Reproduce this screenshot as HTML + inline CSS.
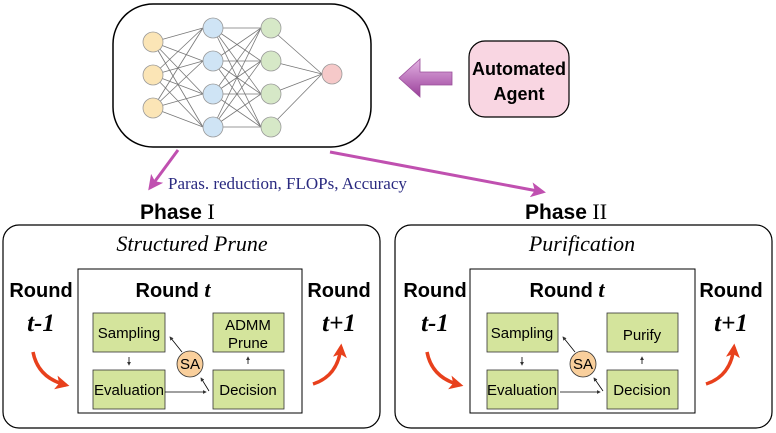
<!DOCTYPE html>
<html><head><style>body{margin:0;background:#fff}svg{display:block}
text{font-family:"Liberation Sans",Arial,sans-serif}
.s{font-family:"Liberation Serif","Times New Roman",serif}
</style></head><body>
<svg width="776" height="433" viewBox="0 0 776 433" xmlns="http://www.w3.org/2000/svg">
<defs>
<linearGradient id="pg" x1="0" y1="0" x2="0" y2="1"><stop offset="0" stop-color="#e3b3e3"/><stop offset="1" stop-color="#9a3f9a"/></linearGradient>
<marker id="mp" markerWidth="5" markerHeight="5" refX="4" refY="2.5" orient="auto"><path d="M0,0L5,2.5L0,5L1.2,2.5z" fill="#c050b0"/></marker>
<marker id="mr" markerWidth="4" markerHeight="4" refX="3" refY="2" orient="auto"><path d="M0,0L4,2L0,4L1,2z" fill="#e8401c"/></marker>
<marker id="mn" markerWidth="5" markerHeight="5" refX="4" refY="2.5" orient="auto"><path d="M0,0L5,2.5L0,5z" fill="#333"/></marker>
</defs>
<rect x="113" y="4" width="258" height="143" rx="40" fill="#fff" stroke="#000" stroke-width="1.5"/>
<g stroke="#777" stroke-width="0.8">
<line x1="153" y1="42" x2="203" y2="28"/><line x1="153" y1="42" x2="203" y2="61"/><line x1="153" y1="42" x2="203" y2="94"/><line x1="153" y1="42" x2="203" y2="127"/>
<line x1="153" y1="75" x2="203" y2="28"/><line x1="153" y1="75" x2="203" y2="61"/><line x1="153" y1="75" x2="203" y2="94"/><line x1="153" y1="75" x2="203" y2="127"/>
<line x1="153" y1="108" x2="203" y2="28"/><line x1="153" y1="108" x2="203" y2="61"/><line x1="153" y1="108" x2="203" y2="94"/><line x1="153" y1="108" x2="203" y2="127"/>
<line x1="213" y1="28" x2="261" y2="28"/><line x1="213" y1="28" x2="261" y2="61"/><line x1="213" y1="28" x2="261" y2="94"/><line x1="213" y1="28" x2="261" y2="127"/>
<line x1="213" y1="61" x2="261" y2="28"/><line x1="213" y1="61" x2="261" y2="61"/><line x1="213" y1="61" x2="261" y2="94"/><line x1="213" y1="61" x2="261" y2="127"/>
<line x1="213" y1="94" x2="261" y2="28"/><line x1="213" y1="94" x2="261" y2="61"/><line x1="213" y1="94" x2="261" y2="94"/><line x1="213" y1="94" x2="261" y2="127"/>
<line x1="213" y1="127" x2="261" y2="28"/><line x1="213" y1="127" x2="261" y2="61"/><line x1="213" y1="127" x2="261" y2="94"/><line x1="213" y1="127" x2="261" y2="127"/>
<line x1="270" y1="28" x2="322" y2="74"/><line x1="270" y1="61" x2="322" y2="74"/><line x1="270" y1="94" x2="322" y2="74"/><line x1="270" y1="127" x2="322" y2="74"/>
</g>
<g stroke="#999" stroke-width="0.8">
<circle cx="153" cy="42" r="10" fill="#fbe5b6"/><circle cx="153" cy="75" r="10" fill="#fbe5b6"/><circle cx="153" cy="108" r="10" fill="#fbe5b6"/>
<circle cx="213" cy="28" r="10" fill="#cfe4f5"/><circle cx="213" cy="61" r="10" fill="#cfe4f5"/><circle cx="213" cy="94" r="10" fill="#cfe4f5"/><circle cx="213" cy="127" r="10" fill="#cfe4f5"/>
<circle cx="271" cy="28" r="10" fill="#d6e8c7"/><circle cx="271" cy="61" r="10" fill="#d6e8c7"/><circle cx="271" cy="94" r="10" fill="#d6e8c7"/><circle cx="271" cy="127" r="10" fill="#d6e8c7"/>
<circle cx="332" cy="74" r="10" fill="#f6c9c9"/>
</g>
<rect x="469" y="41" width="100" height="76" rx="16" fill="#f9d6e2" stroke="#000" stroke-width="1.2"/>
<text x="519" y="75" font-size="18" font-weight="bold" text-anchor="middle">Automated</text>
<text x="519" y="100" font-size="18" font-weight="bold" text-anchor="middle">Agent</text>
<path d="M399,78L420,59L420,72L452,72L452,85L420,85L420,97z" fill="url(#pg)" stroke="#9a4f9a" stroke-width="0.8"/>
<line x1="178" y1="150" x2="150" y2="188" stroke="#c050b0" stroke-width="3" marker-end="url(#mp)"/>
<line x1="330" y1="152" x2="543" y2="192" stroke="#c050b0" stroke-width="3" marker-end="url(#mp)"/>
<text class="s" x="168" y="189" font-size="17" fill="#2a2a80">Paras. reduction, FLOPs, Accuracy</text>
<text x="140" y="219" font-size="21" font-weight="bold">Phase<tspan class="s" font-weight="normal" font-size="22"> I</tspan></text>
<text x="525" y="219" font-size="21" font-weight="bold">Phase<tspan class="s" font-weight="normal" font-size="22"> II</tspan></text>

<g>
<rect x="3" y="225" width="377" height="203" rx="16" fill="#fff" stroke="#000" stroke-width="1.2"/>
<text class="s" x="192" y="251" font-style="italic" font-size="22" text-anchor="middle">Structured Prune</text>
<rect x="78" y="269" width="224" height="144" fill="#fff" stroke="#000" stroke-width="1"/>
<text x="41" y="297" font-size="20" font-weight="bold" text-anchor="middle">Round</text>
<text class="s" x="41" y="331" font-style="italic" font-weight="bold" font-size="25" text-anchor="middle">t-1</text>
<text x="339" y="297" font-size="20" font-weight="bold" text-anchor="middle">Round</text>
<text class="s" x="339" y="331" font-style="italic" font-weight="bold" font-size="25" text-anchor="middle">t+1</text>
<text x="173" y="297" font-size="20" font-weight="bold" text-anchor="middle">Round <tspan class="s" font-style="italic" font-size="22">t</tspan></text>
<g fill="#d4e49c" stroke="#333" stroke-width="0.8">
<rect x="93" y="313" width="72" height="39"/><rect x="93" y="370" width="72" height="39"/>
<rect x="213" y="313" width="71" height="39"/><rect x="213" y="370" width="71" height="39"/>
</g>
<circle cx="190" cy="364" r="13" fill="#f9cf9c" stroke="#333" stroke-width="0.8"/>
<g font-size="15" text-anchor="middle">
<text x="129" y="338">Sampling</text><text x="129" y="395">Evaluation</text>
<text x="248" y="330">ADMM</text><text x="248" y="348">Prune</text>
<text x="248" y="395">Decision</text><text x="190" y="369">SA</text>
</g>
<g stroke="#000" stroke-width="0.8" fill="none">
<line x1="129" y1="357" x2="129" y2="365" marker-end="url(#mn)"/>
<line x1="248" y1="364" x2="248" y2="357" marker-end="url(#mn)"/>
<line x1="165" y1="392" x2="206" y2="392" marker-end="url(#mn)"/>
<line x1="182" y1="352" x2="170" y2="337" marker-end="url(#mn)"/>
<line x1="209" y1="391" x2="201" y2="378" marker-end="url(#mn)"/>
</g>
<path d="M33,352Q38,378 66,385" stroke="#e8401c" stroke-width="3.5" fill="none" marker-end="url(#mr)"/>
<path d="M313,384Q338,376 341,347" stroke="#e8401c" stroke-width="3.5" fill="none" marker-end="url(#mr)"/>
</g>

<g>
<rect x="395" y="225" width="377" height="203" rx="16" fill="#fff" stroke="#000" stroke-width="1.2"/>
<text class="s" x="582" y="251" font-style="italic" font-size="22" text-anchor="middle">Purification</text>
<rect x="470" y="269" width="225" height="144" fill="#fff" stroke="#000" stroke-width="1"/>
<text x="435" y="297" font-size="20" font-weight="bold" text-anchor="middle">Round</text>
<text class="s" x="435" y="331" font-style="italic" font-weight="bold" font-size="25" text-anchor="middle">t-1</text>
<text x="731" y="297" font-size="20" font-weight="bold" text-anchor="middle">Round</text>
<text class="s" x="731" y="331" font-style="italic" font-weight="bold" font-size="25" text-anchor="middle">t+1</text>
<text x="567" y="297" font-size="20" font-weight="bold" text-anchor="middle">Round <tspan class="s" font-style="italic" font-size="22">t</tspan></text>
<g fill="#d4e49c" stroke="#333" stroke-width="0.8">
<rect x="487" y="313" width="71" height="39"/><rect x="487" y="370" width="71" height="39"/>
<rect x="607" y="313" width="71" height="39"/><rect x="607" y="370" width="71" height="39"/>
</g>
<circle cx="583" cy="364" r="13" fill="#f9cf9c" stroke="#333" stroke-width="0.8"/>
<g font-size="15" text-anchor="middle">
<text x="522" y="338">Sampling</text><text x="522" y="395">Evaluation</text>
<text x="642" y="340">Purify</text>
<text x="642" y="395">Decision</text><text x="583" y="369">SA</text>
</g>
<g stroke="#000" stroke-width="0.8" fill="none">
<line x1="522" y1="357" x2="522" y2="365" marker-end="url(#mn)"/>
<line x1="642" y1="364" x2="642" y2="357" marker-end="url(#mn)"/>
<line x1="560" y1="392" x2="600" y2="392" marker-end="url(#mn)"/>
<line x1="575" y1="352" x2="563" y2="337" marker-end="url(#mn)"/>
<line x1="603" y1="391" x2="594" y2="378" marker-end="url(#mn)"/>
</g>
<path d="M427,352Q432,378 460,385" stroke="#e8401c" stroke-width="3.5" fill="none" marker-end="url(#mr)"/>
<path d="M706,384Q731,376 734,347" stroke="#e8401c" stroke-width="3.5" fill="none" marker-end="url(#mr)"/>
</g>
</svg>
</body></html>
